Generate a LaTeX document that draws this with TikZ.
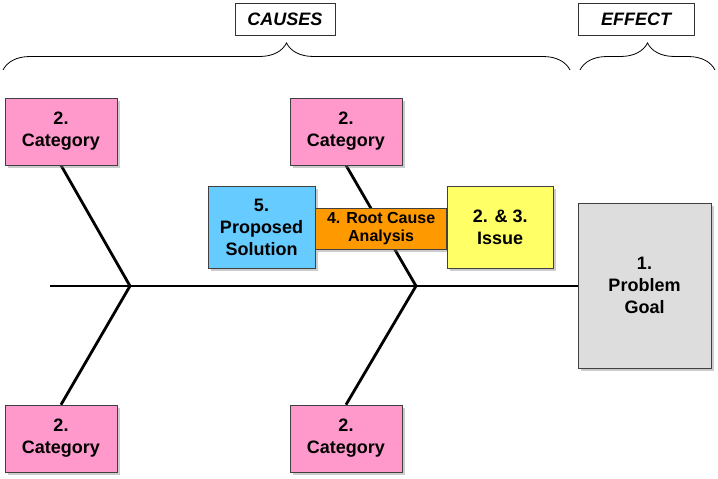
\documentclass[tikz,border=0pt]{standalone}
\usepackage{fontspec}
\setmainfont{Liberation Sans}
\usetikzlibrary{positioning,shadows,decorations.pathreplacing,backgrounds}

\definecolor{catpink}{HTML}{FF99CC}
\definecolor{solblue}{HTML}{66CCFF}
\definecolor{rcaorange}{HTML}{FF9900}
\definecolor{issueyellow}{HTML}{FFFF66}
\definecolor{goalgray}{HTML}{DDDDDD}

\begin{document}
\begin{tikzpicture}[x=1pt,y=-1pt]
\tikzstyle{box}=[draw=black!75, semithick, inner sep=0pt, align=center,
font=\fontsize{18}{22}\selectfont\bfseries,
drop shadow={shadow xshift=2.5pt,shadow yshift=-2.5pt,opacity=0.4}]
\tikzstyle{category}=[box, fill=catpink, minimum width=112pt, minimum height=67pt]
\tikzstyle{headline}=[draw=black!80, thin, inner sep=0pt, minimum height=32pt,
font=\fontsize{18}{22}\selectfont\bfseries\itshape]
\tikzstyle{bone}=[line width=2.8pt, black]
\tikzstyle{curly}=[thick, decorate, decoration={brace, amplitude=27pt}]

\useasboundingbox (0,0) rectangle (718,479);

% headings
\node[headline, minimum width=100pt] at (285,19) (causes) {CAUSES};
\node[headline, minimum width=116pt] at (636,19) (effect) {EFFECT};
\coordinate (cb1) at (3,70);
\coordinate (cb2) at (570,70);
\coordinate (eb1) at (580,70);
\coordinate (eb2) at (715,70);
\draw[curly] (cb1) -- (cb2);
\draw[curly] (eb1) -- (eb2);

% categories
\node[category] at (61,131.5)  (catTL) {2.\\Category};
\node[category] at (346,131.5) (catTM) {2.\\Category};
\node[category] at (61,438.5)  (catBL) {2.\\Category};
\node[category] at (346,438.5) (catBM) {2.\\Category};

% analysis chain
\node[box, fill=solblue, minimum width=107pt, minimum height=82pt] at (261.5,227) (sol) {5.\\Proposed\\Solution};
\node[box, fill=rcaorange, minimum width=131pt, minimum height=41pt,
font=\fontsize{16}{18.5}\selectfont\bfseries, right=0pt of sol, yshift=-1.5pt] (rca) {4. Root Cause\\Analysis};
\node[box, fill=issueyellow, minimum width=106pt, minimum height=82pt, right=0pt of rca, yshift=1.5pt] (issue) {2. \& 3.\\Issue};

% effect
\node[box, fill=goalgray, minimum width=133pt, minimum height=165pt] at (644.5,285.5) (goal) {1.\\Problem\\Goal};

% fish bones
\coordinate (tail) at (50,286);
\coordinate (j1) at (130,286);
\coordinate (j2) at (416,286);
\begin{scope}[on background layer]
\draw[bone] (tail) -- (goal.west |- tail);
\draw[bone] (catTL.south) -- (j1);
\draw[bone] (catBL.north) -- (j1);
\draw[bone] (catTM.south) -- (j2);
\draw[bone] (catBM.north) -- (j2);
\end{scope}

\end{tikzpicture}
\end{document}
